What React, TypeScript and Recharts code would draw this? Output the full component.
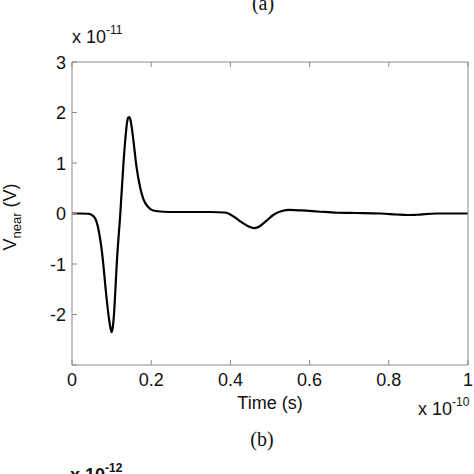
import { Line, LineChart, XAxis, YAxis } from "recharts";

// time in units of 1e-10 s, voltage in units of 1e-11 V
const timeValues = [
  0, 0.02, 0.04, 0.045, 0.05, 0.055, 0.06, 0.065, 0.071, 0.075, 0.079, 0.085, 0.092, 0.096, 0.1, 0.103, 0.106, 0.11,
  0.113, 0.122, 0.13, 0.135, 0.139, 0.142, 0.145, 0.148, 0.155, 0.163, 0.172, 0.18, 0.193, 0.205, 0.23, 0.26, 0.3,
  0.35, 0.385, 0.395, 0.41, 0.43, 0.45, 0.46, 0.47, 0.49, 0.51, 0.53, 0.55, 0.58, 0.62, 0.67, 0.72, 0.78, 0.82, 0.846,
  0.87, 0.92, 1
];
const voltValues = [
  0, 0, -0.005, -0.01, -0.03, -0.06, -0.12, -0.25, -0.5, -0.72, -1.0, -1.5, -2.0, -2.22, -2.35, -2.25, -2.0, -1.45,
  -1.0, 0, 1.0, 1.5, 1.8, 1.9, 1.91, 1.84, 1.45, 0.92, 0.52, 0.29, 0.125, 0.06, 0.035, 0.03, 0.03, 0.03, 0.02, 0.0,
  -0.07, -0.18, -0.27, -0.29, -0.27, -0.15, -0.02, 0.05, 0.07, 0.06, 0.04, 0.015, 0.01, 0, -0.02, -0.03, -0.025, 0, 0
];
const xTicks = [0, 0.2, 0.4, 0.6, 0.8, 1];
const yTicks = [-3, -2, -1, 0, 1, 2, 3];

const data = timeValues.map((t, i) => ({ t, v: voltValues[i] }));

const axisColor = "#8a8a8a";
const font = "'Liberation Sans', Arial, sans-serif";
const fontSize = 18;

function BottomTick({ x, y, payload }: any) {
  return (
    <g>
      <line x1={x} y1={y} x2={x} y2={y - 5} stroke={axisColor} />
      <text x={x} y={y + 21} textAnchor="middle" fontFamily={font} fontSize={fontSize} fill="#111">
        {String(payload.value)}
      </text>
    </g>
  );
}

function TopTick({ x, y }: any) {
  return <line x1={x} y1={y} x2={x} y2={y + 5} stroke={axisColor} />;
}

function LeftTick({ x, y, payload }: any) {
  return (
    <g>
      <line x1={x} y1={y} x2={x + 5} y2={y} stroke={axisColor} />
      {payload.value !== -3 && (
        <text x={x - 6} y={y + 6.5} textAnchor="end" fontFamily={font} fontSize={fontSize} fill="#111">
          {String(payload.value)}
        </text>
      )}
    </g>
  );
}

function RightTick({ x, y }: any) {
  return <line x1={x} y1={y} x2={x - 5} y2={y} stroke={axisColor} />;
}

export default function App() {
  return (
    <div style={{ position: "absolute", left: 0, top: 0, width: 474, height: 474, background: "#fff" }}>
      <LineChart width={474} height={474} data={data} margin={{ top: 61, right: 5, bottom: 108, left: 71 }}>
        <XAxis
          xAxisId="b"
          dataKey="t"
          type="number"
          domain={[0, 1]}
          ticks={xTicks}
          orientation="bottom"
          height={1}
          tickSize={0}
          tickMargin={0}
          tickLine={false}
          axisLine={{ stroke: axisColor }}
          tick={<BottomTick />}
        />
        <XAxis
          xAxisId="t"
          dataKey="t"
          type="number"
          domain={[0, 1]}
          ticks={xTicks}
          orientation="top"
          height={1}
          tickSize={0}
          tickMargin={0}
          tickLine={false}
          axisLine={{ stroke: axisColor }}
          tick={<TopTick />}
        />
        <YAxis
          yAxisId="l"
          type="number"
          domain={[-3, 3]}
          ticks={yTicks}
          width={1}
          tickSize={0}
          tickMargin={0}
          tickLine={false}
          axisLine={{ stroke: axisColor }}
          tick={<LeftTick />}
        />
        <YAxis
          yAxisId="r"
          type="number"
          orientation="right"
          domain={[-3, 3]}
          ticks={yTicks}
          width={1}
          tickSize={0}
          tickMargin={0}
          tickLine={false}
          axisLine={{ stroke: axisColor }}
          tick={<RightTick />}
        />
        <Line
          xAxisId="b"
          yAxisId="l"
          dataKey="v"
          type="monotone"
          stroke="#000"
          strokeWidth={2.2}
          dot={false}
          isAnimationActive={false}
        />
      </LineChart>
      <svg
        width={474}
        height={474}
        style={{ position: "absolute", left: 0, top: 0, pointerEvents: "none" }}
        fontFamily={font}
        fill="#111"
      >
        <text x={263} y={10} textAnchor="middle" fontFamily="'Liberation Serif', serif" fontSize={20}>
          (a)
        </text>
        <text x={72} y={43} fontSize={fontSize}>
          x 10
          <tspan dy={-9} fontSize={12}>
            -11
          </tspan>
        </text>
        <text transform="translate(16,217) rotate(-90)" textAnchor="middle" fontSize={fontSize}>
          V
          <tspan dy={5} fontSize={13}>
            near
          </tspan>
          <tspan dy={-5}> (V)</tspan>
        </text>
        <text x={270} y={409} textAnchor="middle" fontSize={fontSize}>
          Time (s)
        </text>
        <text x={418} y={415} fontSize={fontSize}>
          x 10
          <tspan dy={-9} fontSize={12}>
            -10
          </tspan>
        </text>
        <text x={262} y={446} textAnchor="middle" fontFamily="'Liberation Serif', serif" fontSize={20}>
          (b)
        </text>
        <text x={70} y={481} fontSize={fontSize} fontWeight="bold">
          x 10
          <tspan dy={-9} fontSize={12}>
            -12
          </tspan>
        </text>
      </svg>
    </div>
  );
}
